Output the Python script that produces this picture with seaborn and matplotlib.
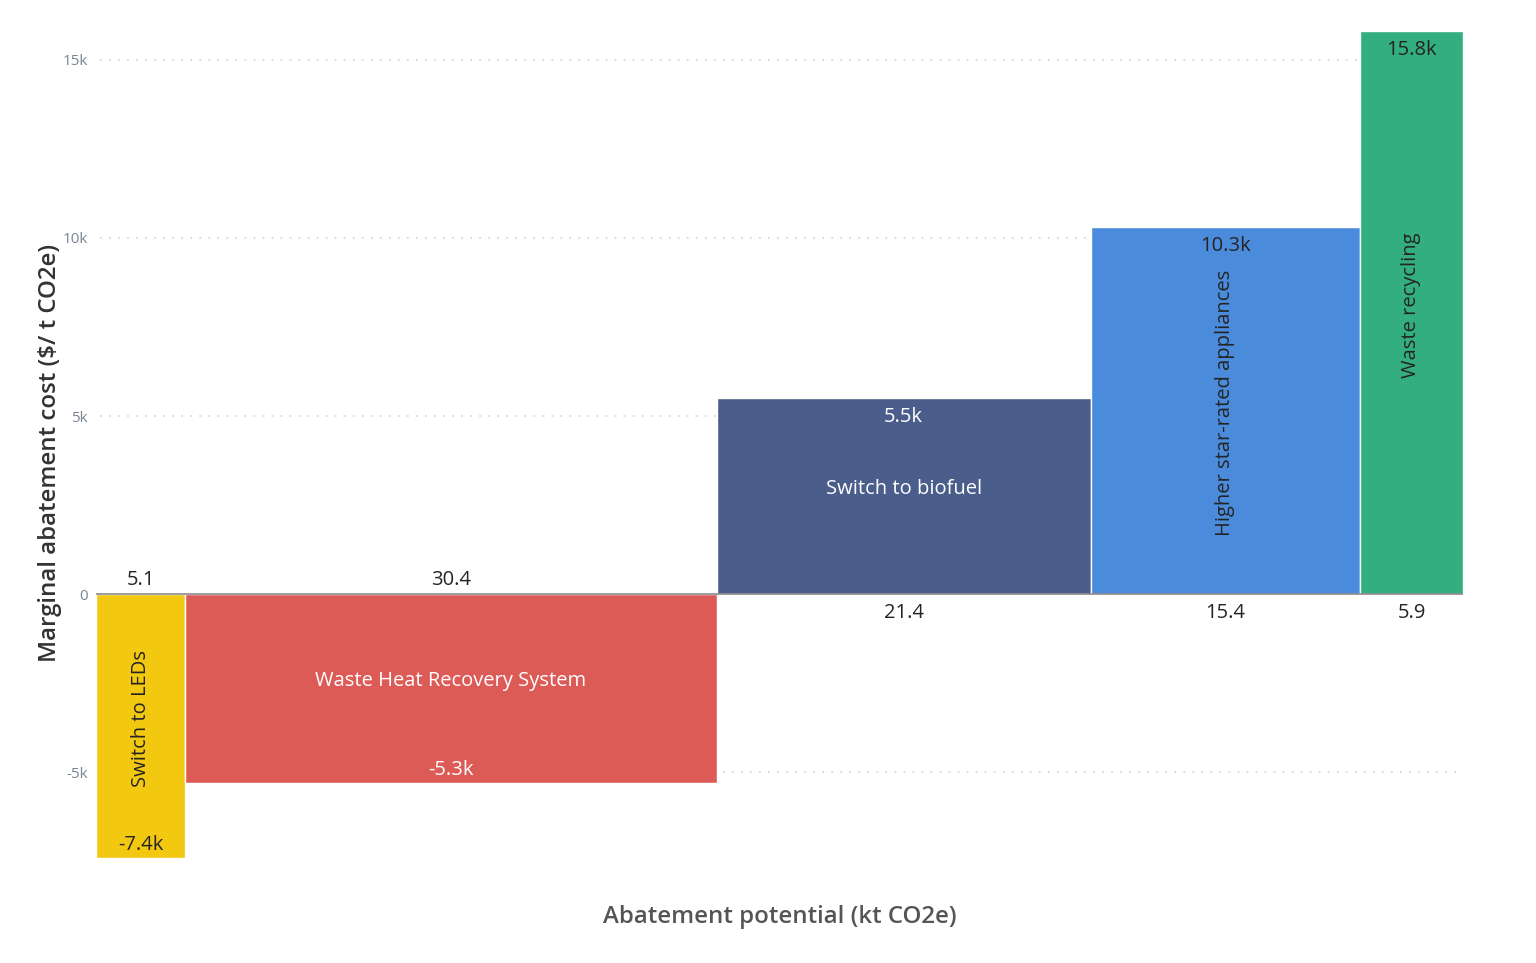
import numpy as np
import matplotlib
matplotlib.use("Agg")
import matplotlib.pyplot as plt
import seaborn as sns

# ---- data ----
categories = ["Switch to LEDs", "Waste Heat Recovery System", "Switch to biofuel",
              "Higher star-rated appliances", "Waste recycling"]
potential = [5.1, 30.4, 21.4, 15.4, 5.9]            # kt CO2e (bar widths)
cost = [-7.4, -5.3, 5.5, 10.3, 15.8]                  # k$/t CO2e (bar heights)
value_labels = ["-7.4k", "-5.3k", "5.5k", "10.3k", "15.8k"]
width_labels = ["5.1", "30.4", "21.4", "15.4", "5.9"]
ytick_vals = [-5, 0, 5, 10, 15]
ytick_labels = ["-5k", "0", "5k", "10k", "15k"]

colors = ["#F2C811", "#DD5B57", "#4B5D8A", "#4A8BDB", "#33AE80"]
txt_colors = ["#252423", "white", "white", "#252423", "#252423"]
rotated = [True, False, False, True, True]

sns.set_theme(style="white")
plt.rcParams["font.family"] = ["Open Sans", "DejaVu Sans"]

fig = plt.figure(figsize=(15.36, 9.63), dpi=100)
ax = fig.add_axes([0.0625, 0.109, 0.89, 0.8588])

edges = np.concatenate([[0], np.cumsum(potential)[:-1]])
ax.bar(edges, cost, width=potential, align="edge", color=colors,
       edgecolor="white", linewidth=1, zorder=2)

total = float(np.sum(potential))
ax.set_xlim(0, total)
ax.set_ylim(min(cost), max(cost))

# gridlines
for v in ytick_vals:
    if v != 0:
        ax.plot([0.25, total], [v, v], color="#d8d8d8", linestyle=(0, (1, 4)),
                linewidth=1.3, zorder=1, clip_on=False)
ax.axhline(0, color="#8a8a8a", linewidth=1.2, zorder=3)

FS = 14.5
for i in range(len(cost)):
    xc = edges[i] + potential[i] / 2
    c = cost[i]
    if c > 0:
        ax.annotate(value_labels[i], (xc, c), xytext=(0, -13.5), textcoords="offset points",
                    ha="center", va="center", fontsize=FS, color=txt_colors[i], zorder=4)
        ax.annotate(width_labels[i], (xc, 0), xytext=(0, -13.5), textcoords="offset points",
                    ha="center", va="center", fontsize=FS, color="#252423", zorder=4)
    else:
        ax.annotate(value_labels[i], (xc, c), xytext=(0, 9.5), textcoords="offset points",
                    ha="center", va="center", fontsize=FS, color=txt_colors[i], zorder=4)
        ax.annotate(width_labels[i], (xc, 0), xytext=(0, 10), textcoords="offset points",
                    ha="center", va="center", fontsize=FS, color="#252423", zorder=4)
    ax.annotate(categories[i], (xc, c / 2), xytext=(0, 5.5), textcoords="offset points",
                ha="center", va="center", fontsize=FS, color=txt_colors[i],
                rotation=90 if rotated[i] else 0, zorder=4)

ax.set_xticks([])
ax.set_yticks(ytick_vals)
ax.set_yticklabels(ytick_labels, color="#7a8594", fontsize=11)
ax.tick_params(axis="y", length=0, pad=6)
for s in ax.spines.values():
    s.set_visible(False)

ax.set_xlabel("Abatement potential (kt CO2e)", fontsize=17.3, color="#555555",
              labelpad=34, fontweight="semibold")
ax.set_ylabel("Marginal abatement cost ($/ t CO2e)", fontsize=17.3, color="#333333",
              fontweight="semibold")
ax.yaxis.set_label_coords(-0.025, 0.49)

fig.savefig("out.png", dpi=100, facecolor="white")
